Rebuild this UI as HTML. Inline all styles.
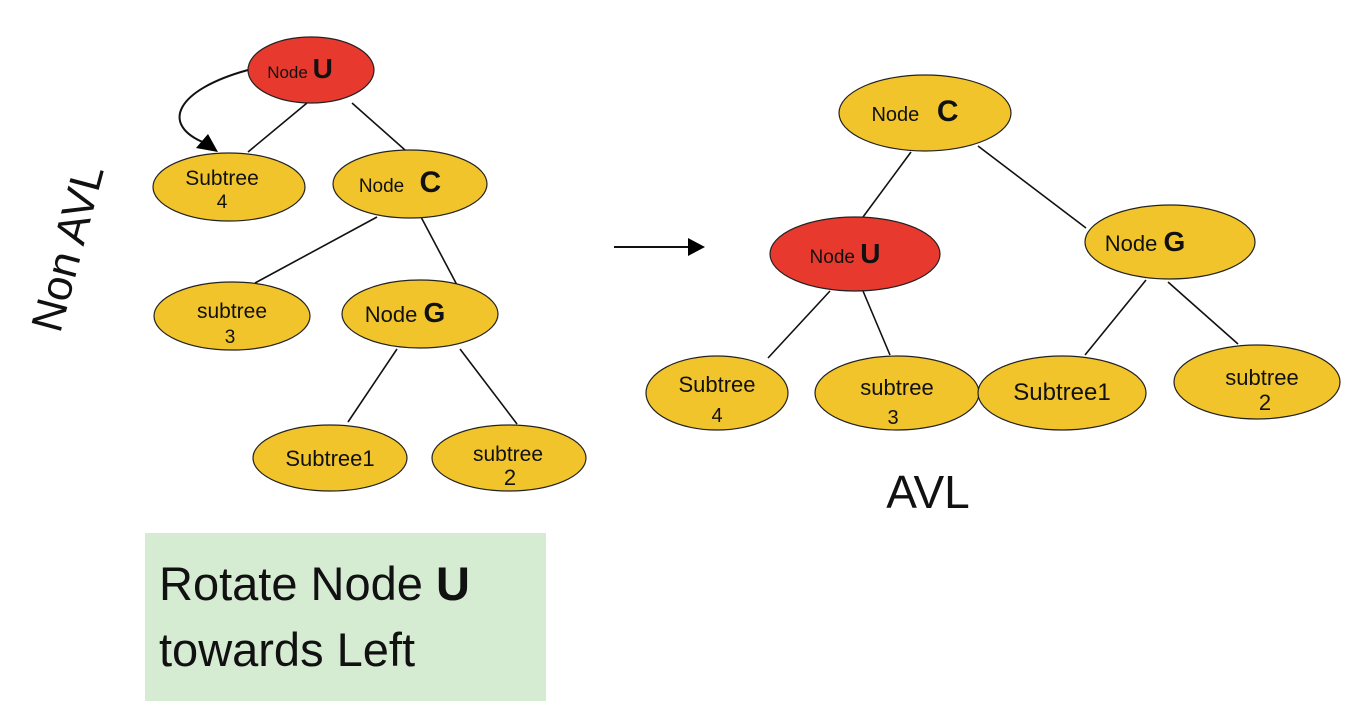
<!DOCTYPE html>
<html><head><meta charset="utf-8"><style>
body{margin:0;background:#fff;width:1358px;height:708px;overflow:hidden;position:relative;font-family:"Liberation Sans",sans-serif}
.box{position:absolute;left:145px;top:533px;width:401px;height:168px;background:#d5ebd2}
.box div{position:absolute;left:14px;font-size:47px;color:#111;line-height:1}
</style></head><body>
<svg width="1358" height="708" style="position:absolute;left:0;top:0">
<g stroke="#111" stroke-width="1.6" fill="none">
<line x1="307" y1="103" x2="248" y2="152"/>
<line x1="352" y1="103" x2="405" y2="150"/>
<line x1="377" y1="217" x2="255" y2="283"/>
<line x1="421" y1="217" x2="457" y2="285"/>
<line x1="397" y1="349" x2="348" y2="422"/>
<line x1="460" y1="349" x2="517" y2="424"/>
<line x1="911" y1="152" x2="863" y2="217"/>
<line x1="978" y1="146" x2="1086" y2="228"/>
<line x1="830" y1="291" x2="768" y2="358"/>
<line x1="863" y1="291" x2="890" y2="355"/>
<line x1="1146" y1="280" x2="1085" y2="355"/>
<line x1="1168" y1="282" x2="1238" y2="344"/>
<line x1="614" y1="247" x2="690" y2="247" stroke-width="2"/>
</g>
<path d="M688,238 L705,247 L688,256 z" fill="#000"/>
<g stroke="#222" stroke-width="1.2">
<ellipse cx="311" cy="70" rx="63" ry="33" fill="#e8392e"/>
<ellipse cx="229" cy="187" rx="76" ry="34" fill="#f1c42c"/>
<ellipse cx="410" cy="184" rx="77" ry="34" fill="#f1c42c"/>
<ellipse cx="232" cy="316" rx="78" ry="34" fill="#f1c42c"/>
<ellipse cx="420" cy="314" rx="78" ry="34" fill="#f1c42c"/>
<ellipse cx="330" cy="458" rx="77" ry="33" fill="#f1c42c"/>
<ellipse cx="509" cy="458" rx="77" ry="33" fill="#f1c42c"/>
<ellipse cx="925" cy="113" rx="86" ry="38" fill="#f1c42c"/>
<ellipse cx="855" cy="254" rx="85" ry="37" fill="#e8392e"/>
<ellipse cx="1170" cy="242" rx="85" ry="37" fill="#f1c42c"/>
<ellipse cx="717" cy="393" rx="71" ry="37" fill="#f1c42c"/>
<ellipse cx="897" cy="393" rx="82" ry="37" fill="#f1c42c"/>
<ellipse cx="1062" cy="393" rx="84" ry="37" fill="#f1c42c"/>
<ellipse cx="1257" cy="382" rx="83" ry="37" fill="#f1c42c"/>
</g>
<path d="M248,70 C175,90 160,125 205,143" fill="none" stroke="#111" stroke-width="2"/>
<path d="M196,148 L218,152 L208,134 z" fill="#000"/>
<g font-family="Liberation Sans, sans-serif" fill="#111" font-size="21" text-anchor="middle">
<text x="300" y="78" font-size="17">Node <tspan font-weight="bold" font-size="28">U</tspan></text>
<text x="222" y="185">Subtree</text><text x="222" y="208" font-size="19">4</text>
<text x="400" y="192" font-size="19">Node <tspan font-weight="bold" font-size="30" dx="10">C</tspan></text>
<text x="232" y="318">subtree</text><text x="230" y="343" font-size="19">3</text>
<text x="405" y="322" font-size="22">Node <tspan font-weight="bold" font-size="28">G</tspan></text>
<text x="330" y="466" font-size="22">Subtree1</text>
<text x="508" y="461">subtree</text><text x="510" y="485" font-size="22">2</text>
<text x="915" y="121" font-size="20">Node <tspan font-weight="bold" font-size="30" dx="12">C</tspan></text>
<text x="845" y="263" font-size="19">Node <tspan font-weight="bold" font-size="28">U</tspan></text>
<text x="1145" y="251" font-size="22">Node <tspan font-weight="bold" font-size="28">G</tspan></text>
<text x="717" y="392" font-size="22">Subtree</text><text x="717" y="422" font-size="20">4</text>
<text x="897" y="395" font-size="22">subtree</text><text x="893" y="424" font-size="20">3</text>
<text x="1062" y="400" font-size="24">Subtree1</text>
<text x="1262" y="385" font-size="22">subtree</text><text x="1265" y="410" font-size="22">2</text>
<text x="928" y="508" font-size="46">AVL</text>
<text x="0" y="0" font-size="44" transform="translate(82,252) rotate(-75)">Non AVL</text>
</g>
</svg>
<div class="box"><div style="top:27px">Rotate Node <b>U</b></div><div style="top:93px">towards Left</div></div>
</body></html>
